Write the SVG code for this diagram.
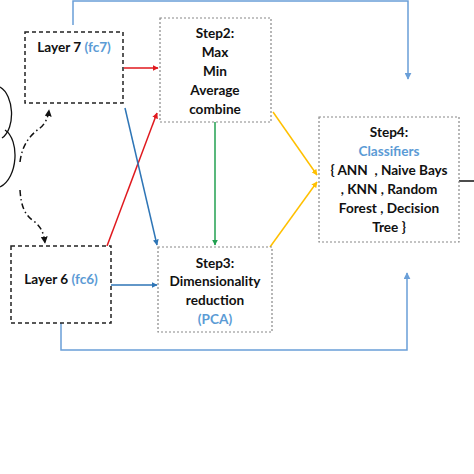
<svg xmlns="http://www.w3.org/2000/svg" width="474" height="474" viewBox="0 0 474 474">
<defs>
<style>
.t{font-family:Lato,"Liberation Sans",sans-serif;font-weight:bold;font-size:13.6px;fill:#111;text-anchor:middle;white-space:pre}
.b{fill:#5b9bd5}
.layer{fill:#fff;stroke:#222;stroke-width:1.5;stroke-dasharray:4,3}
.step{fill:#fff;stroke:#888;stroke-width:1.2;stroke-dasharray:2,2}
.c{fill:none;stroke-width:1.5}
</style>
<marker id="mr" viewBox="0 0 10 10" refX="9" refY="5" markerWidth="6" markerHeight="6" orient="auto" markerUnits="userSpaceOnUse"><path d="M0,0 L10,5 L0,10 z" fill="#e0191e"/></marker>
<marker id="mb" viewBox="0 0 10 10" refX="9" refY="5" markerWidth="6" markerHeight="6" orient="auto" markerUnits="userSpaceOnUse"><path d="M0,0 L10,5 L0,10 z" fill="#2e75b6"/></marker>
<marker id="mg" viewBox="0 0 10 10" refX="9" refY="5" markerWidth="6" markerHeight="6" orient="auto" markerUnits="userSpaceOnUse"><path d="M0,0 L10,5 L0,10 z" fill="#22a050"/></marker>
<marker id="my" viewBox="0 0 10 10" refX="9" refY="5" markerWidth="6" markerHeight="6" orient="auto" markerUnits="userSpaceOnUse"><path d="M0,0 L10,5 L0,10 z" fill="#ffc000"/></marker>
<marker id="ml" viewBox="0 0 10 10" refX="9" refY="5" markerWidth="7" markerHeight="7" orient="auto" markerUnits="userSpaceOnUse"><path d="M0,0 L10,5 L0,10 z" fill="#6a9fd8"/></marker>
<marker id="mk" viewBox="0 0 10 10" refX="9" refY="5" markerWidth="7" markerHeight="7" orient="auto" markerUnits="userSpaceOnUse"><path d="M0,0 L10,5 L0,10 z" fill="#111"/></marker>
</defs>
<rect width="474" height="474" fill="#fff"/>

<g id="cloud" fill="none" stroke="#111" stroke-width="1.3">
<path d="M0,87 C14,95 16,128 2,138"/>
<path d="M5,130 C20,140 18,178 0,187"/>
</g>

<g id="connectors">
<path class="c" d="M73,25 V1 H408 V79" stroke="#6a9fd8" marker-end="url(#ml)"/>
<path class="c" d="M61,323 V350 H407 V273" stroke="#6a9fd8" marker-end="url(#ml)"/>
<path class="c" d="M124,68 H158" stroke="#e0191e" marker-end="url(#mr)"/>
<path class="c" d="M107,246 L157,113" stroke="#e0191e" marker-end="url(#mr)"/>
<path class="c" d="M125,108 L157,245" stroke="#2e75b6" marker-end="url(#mb)"/>
<path class="c" d="M111,285 H157" stroke="#2e75b6" marker-end="url(#mb)"/>
<path class="c" d="M215,122 V245" stroke="#22a050" marker-end="url(#mg)"/>
<path class="c" d="M273,112 L317,175" stroke="#ffc000" marker-end="url(#my)"/>
<path class="c" d="M270,247 L317,182" stroke="#ffc000" marker-end="url(#my)"/>
<path class="c" d="M459,181 H474" stroke="#111"/>
<path class="c" d="M20,162 C22,145 30,135 40,128 C45,124 48,118 49,110" stroke="#111" stroke-dasharray="6,3,1.5,3" marker-end="url(#mk)"/>
<path class="c" d="M20,190 C21,205 24,215 35,222 C42,228 44,235 45,243" stroke="#111" stroke-dasharray="6,3,1.5,3" marker-end="url(#mk)"/>
</g>

<g id="layer7">
<rect class="layer" x="25" y="32" width="98" height="71"/>
<text class="t" x="74" y="52">Layer 7 <tspan class="b">(fc7)</tspan></text>
</g>

<g id="layer6">
<rect class="layer" x="11" y="246" width="100" height="77"/>
<text class="t" x="61" y="284">Layer 6 <tspan class="b">(fc6)</tspan></text>
</g>

<g id="step2">
<rect class="step" x="160" y="18" width="111" height="104"/>
<text class="t" x="215" y="38">Step2:</text>
<text class="t" x="215" y="57">Max</text>
<text class="t" x="215" y="76">Min</text>
<text class="t" x="215" y="95">Average</text>
<text class="t" x="215" y="114">combine</text>
</g>

<g id="step3">
<rect class="step" x="158" y="247" width="114" height="85"/>
<text class="t" x="215" y="268">Step3:</text>
<text class="t" x="215" y="286">Dimensionality</text>
<text class="t" x="215" y="305">reduction</text>
<text class="t b" x="215" y="324">(PCA)</text>
</g>

<g id="step4">
<rect class="step" x="319" y="117" width="140" height="125"/>
<text class="t" x="389" y="137">Step4:</text>
<text class="t b" x="389" y="156">Classifiers</text>
<text class="t" x="389" y="175">{ ANN  , Naive Bays</text>
<text class="t" x="389" y="194">, KNN , Random</text>
<text class="t" x="389" y="213">Forest , Decision</text>
<text class="t" x="389" y="232">Tree }</text>
</g>
</svg>
